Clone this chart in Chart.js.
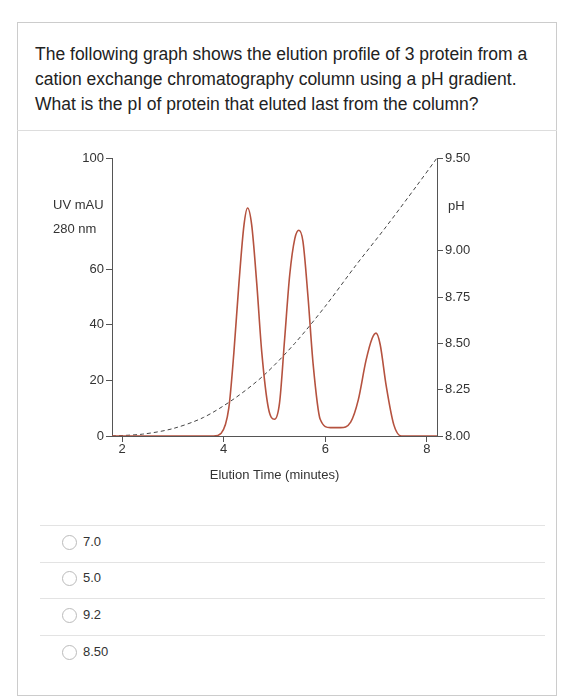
<!DOCTYPE html>
<html><head><meta charset="utf-8">
<script src="https://cdn.jsdelivr.net/npm/chart.js@4"></script>
<style>
body{margin:0;background:#fff;font-family:"Liberation Sans",Arial,sans-serif;}
#box{position:absolute;left:17px;top:22px;width:538px;height:672px;border:1px solid #ccc;}
#q{position:absolute;left:35px;top:42px;width:520px;font-size:17.5px;line-height:25px;color:#222;}
#qline{position:absolute;left:17px;top:130px;width:540px;border-top:1px solid #ddd;}
#wrap{position:absolute;left:0;top:148px;width:573px;height:335px;}
.lbl{position:absolute;font-size:13px;color:#333;}
.opt{position:absolute;left:62px;font-size:13px;color:#333;}
.opt span{display:inline-block;width:13px;height:13px;border:1px solid #bbb;border-radius:50%;vertical-align:middle;margin-right:6px;}
.sep{position:absolute;left:40px;width:505px;border-top:1px solid #e3e3e3;}
</style></head><body>
<div id="box"></div>
<div id="q">The following graph shows the elution profile of 3 protein from a cation exchange chromatography column using a pH gradient. What is the pI of protein that eluted last from the column?</div>
<div id="qline"></div>
<div id="wrap"><canvas id="c"></canvas></div>
<div class="lbl" style="left:53px;top:197px">UV mAU</div>
<div class="lbl" style="left:53px;top:221px">280 nm</div>
<div class="lbl" style="left:448px;top:198px">pH</div>
<div class="sep" style="top:525px"></div>
<div class="opt" style="top:534px"><span></span>7.0</div>
<div class="sep" style="top:562px"></div>
<div class="opt" style="top:570px"><span></span>5.0</div>
<div class="sep" style="top:598px"></div>
<div class="opt" style="top:607px"><span></span>9.2</div>
<div class="sep" style="top:635px"></div>
<div class="opt" style="top:644px"><span></span>8.50</div>
<script>
const uvTime=[1.8,3.8,3.95,4.1,4.2,4.3,4.4,4.47,4.55,4.65,4.75,4.88,5.0,5.1,5.2,5.3,5.4,5.48,5.56,5.66,5.76,5.9,6.1,6.3,6.5,6.65,6.8,6.92,7.0,7.08,7.2,7.35,7.5,8.2];
const uvVals=[0,0,1,10,30,55,76,82,76,55,30,10,6,12,35,58,71,74,70,50,26,6,3,3,5,13,27,35,37,33,18,4,0,0];
const phTime=[1.8,2.4,3.0,3.6,4.2,4.8,5.4,6.0,6.6,7.2,7.8,8.2];
const phVals=[8.0,8.01,8.04,8.1,8.2,8.33,8.5,8.7,8.92,9.13,9.35,9.5];
const xTicks=[2,4,6,8];
const leftTicks=[0,20,40,60,100];
const rightTicks=[8.0,8.25,8.5,8.75,9.0,9.5];
const toXY=(xs,ys)=>xs.map((x,i)=>({x,y:ys[i]}));
const tickFont={family:"Liberation Sans",size:13};
const grid={display:true,drawOnChartArea:false,drawTicks:true,tickLength:6,color:'#555'};
new Chart(document.getElementById('c'),{
 type:'line',
 data:{datasets:[
  {data:toXY(uvTime,uvVals),yAxisID:'y',borderColor:'#b5523f',borderWidth:1.6,pointRadius:0,tension:0.3,cubicInterpolationMode:'monotone'},
  {data:toXY(phTime,phVals),yAxisID:'y2',borderColor:'#444',borderWidth:1,borderDash:[4,3],pointRadius:0,tension:0.3}
 ]},
 options:{responsive:true,maintainAspectRatio:false,animation:false,
  layout:{padding:{top:10,bottom:0}},
  plugins:{legend:{display:false},tooltip:{enabled:false}},
  scales:{
   x:{type:'linear',min:1.8,max:8.2,grid:grid,border:{color:'#555'},
      afterBuildTicks:s=>{s.ticks=xTicks.map(v=>({value:v}));},
      afterFit:s=>{s.height=47;},
      ticks:{font:tickFont,color:'#333',autoSkip:false,maxRotation:0,padding:0},
      title:{display:true,text:'Elution Time (minutes)',font:tickFont,color:'#333',padding:0}},
   y:{position:'left',min:0,max:100,grid:grid,border:{color:'#555'},
      afterBuildTicks:s=>{s.ticks=leftTicks.map(v=>({value:v}));},
      afterFit:s=>{s.width=112;},
      ticks:{font:tickFont,color:'#333',padding:2}},
   y2:{position:'right',min:8.0,max:9.5,grid:grid,border:{color:'#555'},
      afterBuildTicks:s=>{s.ticks=rightTicks.map(v=>({value:v}));},
      afterFit:s=>{s.width=136;},
      ticks:{font:tickFont,color:'#333',padding:2,callback:v=>v.toFixed(2)}}
  }}
});
</script>
</body></html>
